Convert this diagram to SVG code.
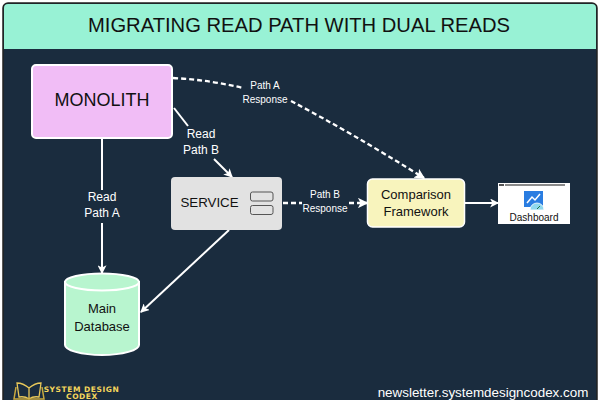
<svg xmlns="http://www.w3.org/2000/svg" width="600" height="400" viewBox="0 0 600 400">
<style>
text{font-family:"Liberation Sans",Arial,sans-serif;text-anchor:middle}
.lbl{fill:#fff;font-size:12px}
.sm{fill:#fff;font-size:10px}
.dark{fill:#111}
.gold{fill:#f5d65c;font-size:7.500px;font-weight:700;letter-spacing:.55px;font-family:"DejaVu Sans",sans-serif}
.link{fill:none;stroke:#fff;stroke-width:2}
.dash{stroke-dasharray:5 3;stroke-width:2.300}
</style>
<defs>
<marker id="arrow" viewBox="0 0 8 8" refX="7" refY="4" markerWidth="4.500" markerHeight="4.500" orient="auto">
<path d="M0 0L8 4L0 8L2 4Z" fill="#fff"/>
</marker>
</defs>
<rect width="600" height="400" fill="#fff"/>
<rect x="3" y="3" width="594" height="410" rx="5" fill="#1a2c3e" stroke="#222" stroke-width="1.500"/>
<g id="title">
<path d="M4 49V8a4 4 0 0 1 4-4H592a4 4 0 0 1 4 4V49Z" fill="#98f2d5"/>
<text x="299" y="32" font-size="20.200" class="dark">MIGRATING READ PATH WITH DUAL READS</text>
</g>
<g id="connectors">
<path class="link dash" d="M173 78Q210 80 243 88"/>
<path class="link dash" d="M291 101Q350 132 424 178" marker-end="url(#arrow)"/>
<path class="link" d="M174 108L188 126"/>
<path class="link" d="M214 159L232 177" marker-end="url(#arrow)"/>
<path class="link" d="M102 139V190"/>
<path class="link" d="M102 223V273" marker-end="url(#arrow)"/>
<path class="link" d="M229 230L141 312" marker-end="url(#arrow)"/>
<path class="link dash" d="M283 203H302"/>
<path class="link dash" d="M349 203H367" marker-end="url(#arrow)"/>
<path class="link" d="M465 203H498" marker-end="url(#arrow)"/>
</g>
<g id="monolith">
<rect x="32" y="65" width="140" height="73" rx="4" fill="#f1bdf6" stroke="#fff" stroke-width="2"/>
<text x="102" y="106" font-size="18" class="dark">MONOLITH</text>
</g>
<g id="service">
<rect x="171" y="177" width="111" height="53" rx="4" fill="#e2e2e2"/>
<text x="209.500" y="207" font-size="13.300" class="dark">SERVICE</text>
<rect x="250.500" y="192" width="22.500" height="9" rx="2" fill="#e2e2e2" stroke="#555"/>
<rect x="250.500" y="205.500" width="22.500" height="9" rx="2" fill="#e2e2e2" stroke="#555"/>
</g>
<g id="database">
<path d="M65 282V345C65 350 81 355 102 355S139 350 139 345V282Z" fill="#b8f5cf" stroke="#fff" stroke-width="2"/>
<ellipse cx="102" cy="282" rx="37" ry="8.500" fill="#b8f5cf" stroke="#fff" stroke-width="2"/>
<text x="102" y="313" font-size="13" class="dark">Main</text>
<text x="102" y="330.500" font-size="13" class="dark">Database</text>
</g>
<g id="comparison">
<rect x="367.500" y="179" width="97" height="48" rx="5" fill="#f8f4bd" stroke="#fff" stroke-width="1.500"/>
<text x="416" y="198.500" font-size="13" class="dark">Comparison</text>
<text x="416" y="216" font-size="13" class="dark">Framework</text>
</g>
<g id="dashboard">
<rect x="498" y="183" width="72" height="41" fill="#fff"/>
<rect x="505" y="184" width="60" height="2" fill="#8a8a8a"/>
<rect x="499" y="184" width="5" height="2" fill="#555"/>
<rect x="524" y="191" width="19" height="16" fill="#2a7de1"/>
<path d="M527 203L532 197L535 200L540 194" fill="none" stroke="#fff" stroke-width="1.500"/>
<path d="M530 210a7 7 0 0 1 14 0Z" fill="#8fd8ee" stroke="#fff" stroke-width=".8"/>
<path d="M537 209L540 206" stroke="#274" stroke-width="1"/>
<text x="534" y="220.500" font-size="10" class="dark">Dashboard</text>
</g>
<g id="labels">
<text x="201" y="137.500" class="lbl">Read</text>
<text x="201" y="153.700" class="lbl">Path B</text>
<text x="102" y="201" class="lbl">Read</text>
<text x="102" y="217" class="lbl">Path A</text>
<text x="265" y="89" class="sm">Path A</text>
<text x="265" y="103" class="sm">Response</text>
<text x="325" y="198" class="sm">Path B</text>
<text x="325" y="212" class="sm">Response</text>
</g>
<g id="logo">
<path d="M29 388Q23 383 17 383L19 397Q25 396 29 399Q33 396 39 397L41 383Q35 383 29 388V399" fill="none" stroke="#e8c85a" stroke-width="1.300"/>
<path d="M16 387L14 399H44L42 387" fill="none" stroke="#c9a93f" stroke-width="1.500"/>
<text x="81.500" y="391.500" class="gold">SYSTEM DESIGN</text>
<text x="82" y="399" class="gold">CODEX</text>
</g>
<text id="url" x="483" y="397" font-size="13.400" fill="#fff">newsletter.systemdesigncodex.com</text>
</svg>
